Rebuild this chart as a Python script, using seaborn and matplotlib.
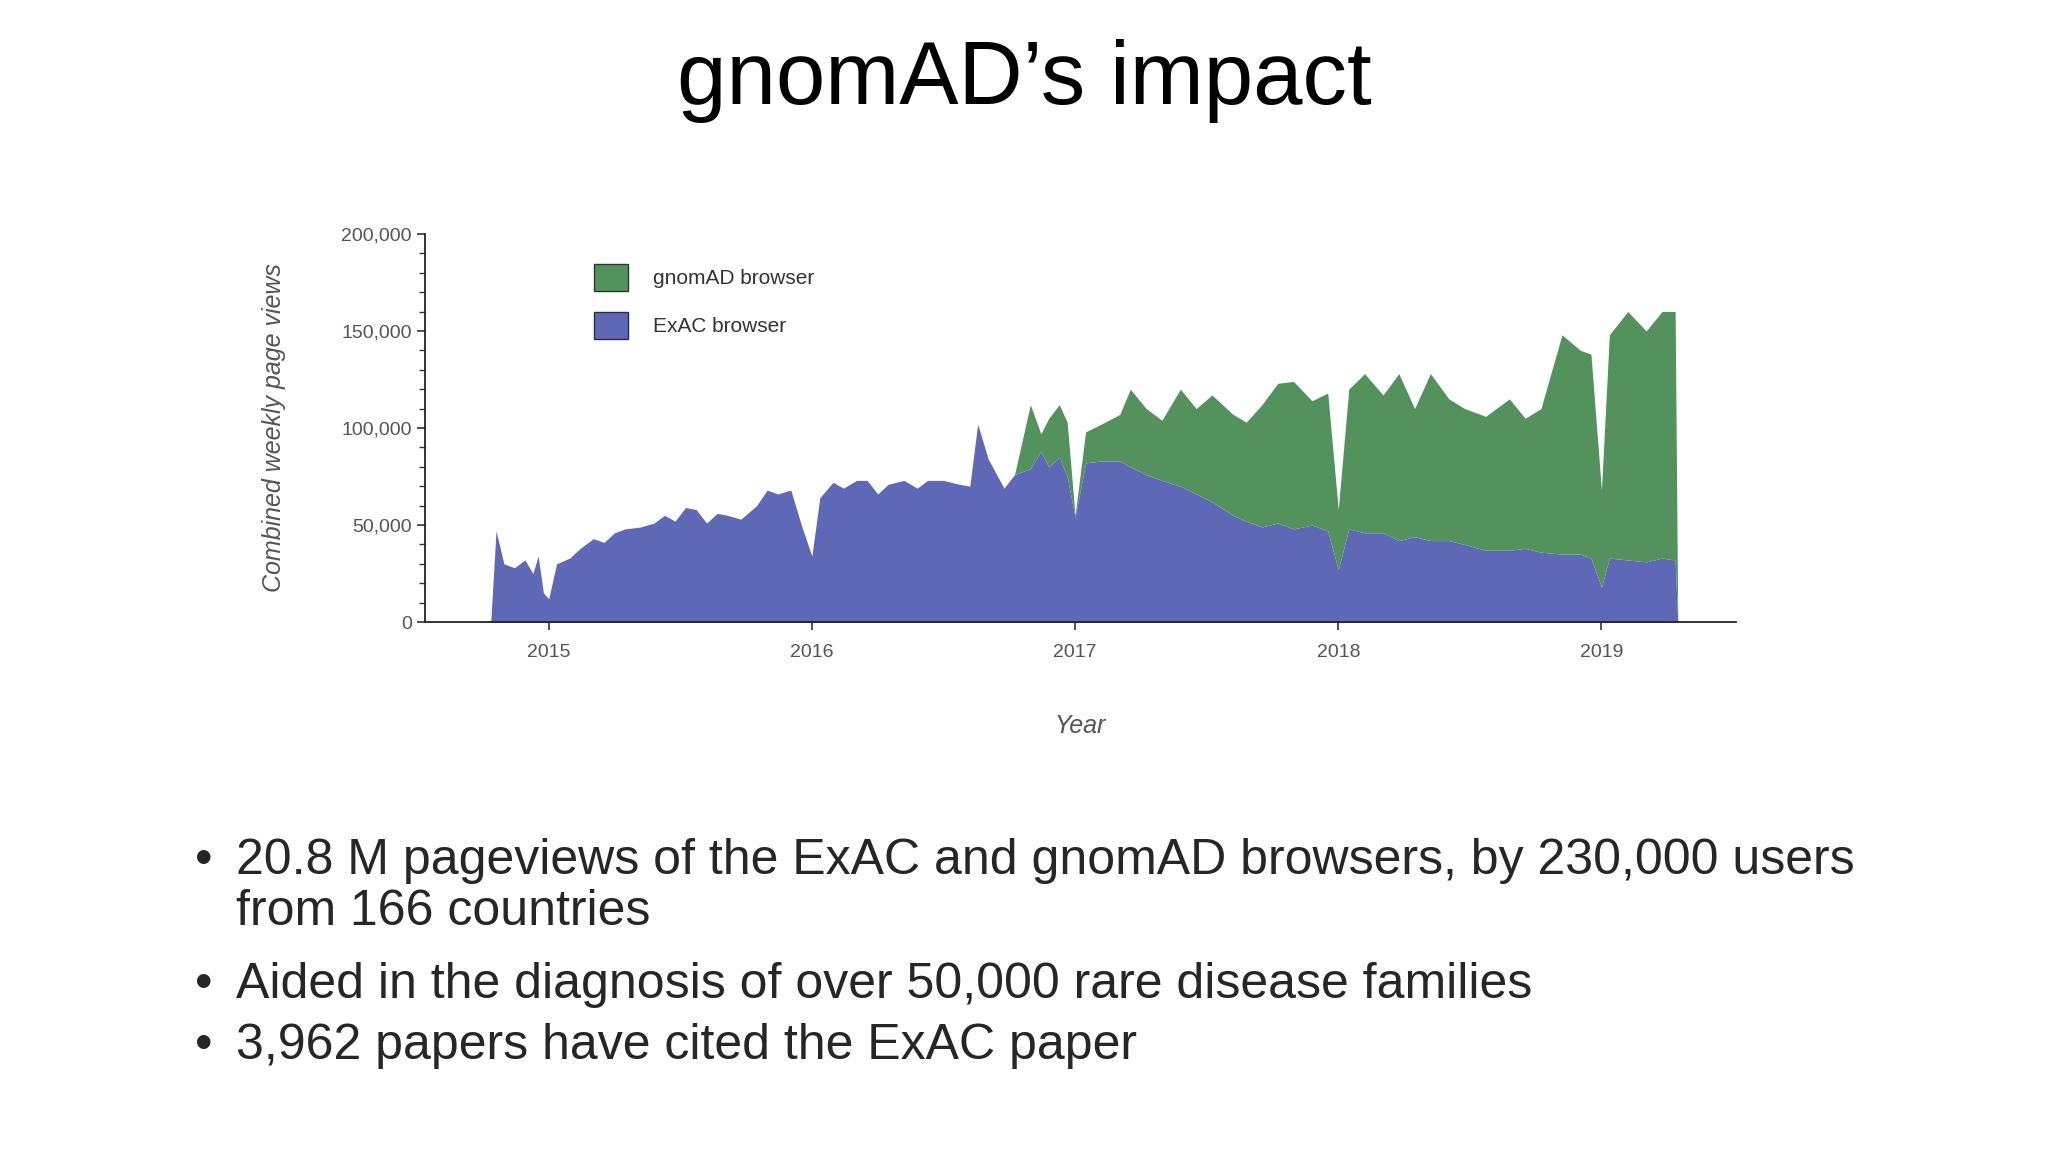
import matplotlib
matplotlib.use("Agg")
import matplotlib.pyplot as plt
import matplotlib.ticker as mticker
from matplotlib.patches import Patch
import seaborn as sns
import numpy as np

# ── data (thousands of weekly page views) ──
dates = [2014.78, 2014.80, 2014.83, 2014.87, 2014.91, 2014.94, 2014.96, 2014.98,
         2015.00, 2015.03, 2015.08, 2015.12, 2015.17, 2015.21, 2015.25, 2015.29,
         2015.35, 2015.40, 2015.44, 2015.48, 2015.52, 2015.56, 2015.60, 2015.64,
         2015.68, 2015.73, 2015.79, 2015.83, 2015.87, 2015.92, 2015.96, 2016.00,
         2016.03, 2016.08, 2016.12, 2016.17, 2016.21, 2016.25, 2016.29, 2016.35,
         2016.40, 2016.44, 2016.50, 2016.56, 2016.60, 2016.63, 2016.67, 2016.73,
         2016.77, 2016.83, 2016.87, 2016.90, 2016.94, 2016.97, 2017.00, 2017.04,
         2017.10, 2017.17, 2017.21, 2017.27, 2017.33, 2017.40, 2017.46, 2017.52,
         2017.60, 2017.65, 2017.71, 2017.77, 2017.83, 2017.90, 2017.96, 2018.00,
         2018.04, 2018.10, 2018.17, 2018.23, 2018.29, 2018.35, 2018.42, 2018.48,
         2018.56, 2018.65, 2018.71, 2018.77, 2018.85, 2018.92, 2018.96, 2019.00,
         2019.03, 2019.10, 2019.17, 2019.23, 2019.28, 2019.29]

exac = [0, 47, 30, 28, 32, 25, 34, 15,
        12, 30, 33, 38, 43, 41, 46, 48,
        49, 51, 55, 52, 59, 58, 51, 56,
        55, 53, 60, 68, 66, 68, 50, 34,
        64, 72, 69, 73, 73, 66, 71, 73,
        69, 73, 73, 71, 70, 102, 84, 69,
        76, 79, 88, 80, 85, 75, 54, 82,
        83, 83, 80, 76, 73, 70, 66, 62,
        55, 52, 49, 51, 48, 50, 47, 27,
        48, 46, 46, 42, 44, 42, 42, 40,
        37, 37, 38, 36, 35, 35, 33, 18,
        33, 32, 31, 33, 32, 0]

gnomad = [0, 0, 0, 0, 0, 0, 0, 0,
          0, 0, 0, 0, 0, 0, 0, 0,
          0, 0, 0, 0, 0, 0, 0, 0,
          0, 0, 0, 0, 0, 0, 0, 0,
          0, 0, 0, 0, 0, 0, 0, 0,
          0, 0, 0, 0, 0, 0, 0, 0,
          0, 33, 9, 25, 27, 28, 1, 16,
          19, 24, 40, 34, 31, 50, 44, 55,
          52, 51, 63, 72, 76, 64, 71, 31,
          72, 82, 71, 86, 66, 86, 73, 70,
          69, 78, 67, 74, 113, 105, 105, 50,
          115, 128, 119, 127, 128, 0]

year_ticks = [2015, 2016, 2017, 2018, 2019]
bullets = [
    "20.8 M pageviews of the ExAC and gnomAD browsers, by 230,000 users\nfrom 166 countries",
    "Aided in the diagnosis of over 50,000 rare disease families",
    "3,962 papers have cited the ExAC paper",
]

GREEN = "#53925c"
BLUE = "#5f68b6"
GREY = "#555555"

sns.set_theme(style="ticks")
plt.rcParams["font.family"] = ["Liberation Sans", "DejaVu Sans"]

fig = plt.figure(figsize=(20.48, 11.52), dpi=100)
ax = fig.add_axes([0.2075, 0.46, 0.640, 0.337])

x = np.array(dates)
ax.stackplot(x, np.array(exac) * 1000, np.array(gnomad) * 1000,
             colors=[BLUE, GREEN], linewidth=0)

ax.set_xlim(2014.53, 2019.51)
ax.set_ylim(0, 200000)
ax.set_xticks(year_ticks)
ax.set_xticklabels([str(y) for y in year_ticks])
ax.yaxis.set_major_locator(mticker.MultipleLocator(50000))
ax.yaxis.set_minor_locator(mticker.MultipleLocator(10000))
ax.yaxis.set_major_formatter(mticker.FuncFormatter(lambda v, p: f"{int(v):,}"))
ax.tick_params(axis="both", labelsize=14, colors="#333333", labelcolor=GREY, length=6, width=1.2)
ax.tick_params(axis="y", which="minor", length=4, width=1, colors="#333333")
for s in ["top", "right"]:
    ax.spines[s].set_visible(False)
for s in ["left", "bottom"]:
    ax.spines[s].set_color("#222222")
    ax.spines[s].set_linewidth(1.3)
ax.tick_params(axis="x", pad=10)

ax.set_ylabel("Combined weekly page views", fontsize=18, style="italic", color=GREY, labelpad=40)
ax.set_xlabel("Year", fontsize=18, style="italic", color=GREY, labelpad=38)

handles = [Patch(facecolor=GREEN, edgecolor="#2a3a2a", label="gnomAD browser"),
           Patch(facecolor=BLUE, edgecolor="#2a2a4a", label="ExAC browser")]
ax.legend(handles=handles, loc="upper left", bbox_to_anchor=(0.115, 0.97), frameon=False,
          fontsize=15, handlelength=1.6, handleheight=1.6, labelspacing=1.0, handletextpad=1.2,
          labelcolor="#333333")

fig.text(0.5, 0.93, "gnomAD\u2019s impact", ha="center", va="center", fontsize=64, color="black")

ys = [0.273, 0.165, 0.112]
for y, b in zip(ys, bullets):
    fig.text(0.095, y, "\u2022", fontsize=36, va="top", ha="left")
    fig.text(0.115, y, b, fontsize=36, va="top", ha="left", linespacing=1.15)

fig.savefig("out.png", dpi=100, facecolor="white")
